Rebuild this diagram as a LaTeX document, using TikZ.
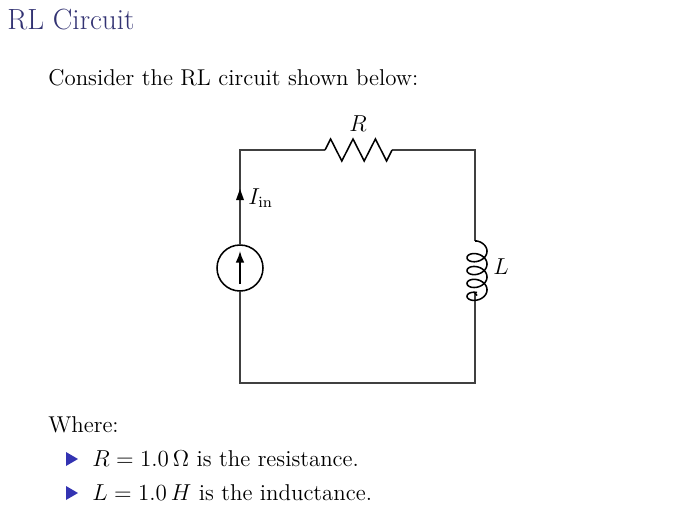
\documentclass[tikz,border=0pt]{standalone}
\usetikzlibrary{arrows.meta}
\definecolor{struct}{rgb}{0.2,0.2,0.7}
\definecolor{titlec}{rgb}{0.2,0.2,0.45}
\begin{document}
\begin{tikzpicture}[x=0.52pt,y=-0.52pt,
  wire/.style={draw=black!75,line width=0.6pt},
  txt/.style={anchor=base west,inner sep=0pt,font=\fontsize{11.9}{14}\selectfont},
  lbl/.style={inner sep=0pt,font=\fontsize{11.9}{14}\selectfont},
  bullet/.style={fill=struct,draw=none}]
\useasboundingbox (0,0) rectangle (700,521);
\node[anchor=base west,inner sep=0pt,text=titlec,font=\fontsize{15.2}{17}\selectfont] (title) at (7,29) {RL Circuit};
\node[txt] (intro) at (48,85) {Consider the RL circuit shown below:};
\coordinate (tl) at (240,150); \coordinate (tr) at (475,150);
\coordinate (bl) at (240,383); \coordinate (br) at (475,383);
\coordinate (r1) at (325,150); \coordinate (r2) at (392,150);
\coordinate (l1) at (475,241); \coordinate (l2) at (475,293);
\node[circle,draw,line width=0.8pt,minimum size=46*0.52pt,inner sep=0pt] (src) at (240,268) {};
\draw[wire] (src.south) -- (bl) -- (br) -- (l2);
\draw[wire] (l1) -- (tr) -- (r2);
\draw[wire] (r1) -- (tl) -- (src.north);
% resistor
\draw[line width=0.8pt,line join=miter] (r1) -- ++(5.6,-11) -- ++(11.2,22) -- ++(11.2,-22) -- ++(11.2,22) -- ++(11.2,-22) -- ++(11.2,22) -- (r2);
\node[lbl] (R) at (358,124) {$R$};
% inductor
\draw[line width=0.8pt] plot[domain=-90:1350,samples=180,smooth] ({477+10*cos(\x)},{248+2.05*((\x+90)/57.3)+7*sin(\x)});
\draw[line width=0.8pt] (l1) -- (477,241);
\draw[line width=0.8pt] (477,295.5) -- (l2);
\node[lbl] (L) at (501,267) {$L$};
% source arrow
\draw[-{Latex[length=6pt,width=4.5pt]},line width=0.8pt] (240,284) -- (240,251);
\fill (240,189) -- (236,200) -- (244,200) -- cycle;
\node[lbl,anchor=west] (Iin) at (248,198) {$I_{\mathrm{in}}$};
\node[txt] (where) at (48,432) {Where:};
\fill[bullet] (66,452) -- (78,459) -- (66,466) -- cycle;
\node[txt] (b1) at (92,466) {$R = 1.0\,\Omega$ is the resistance.};
\fill[bullet] (66,486) -- (78,493) -- (66,500) -- cycle;
\node[txt] (b2) at (92,500) {$L = 1.0\,H$ is the inductance.};
\end{tikzpicture}
\end{document}
